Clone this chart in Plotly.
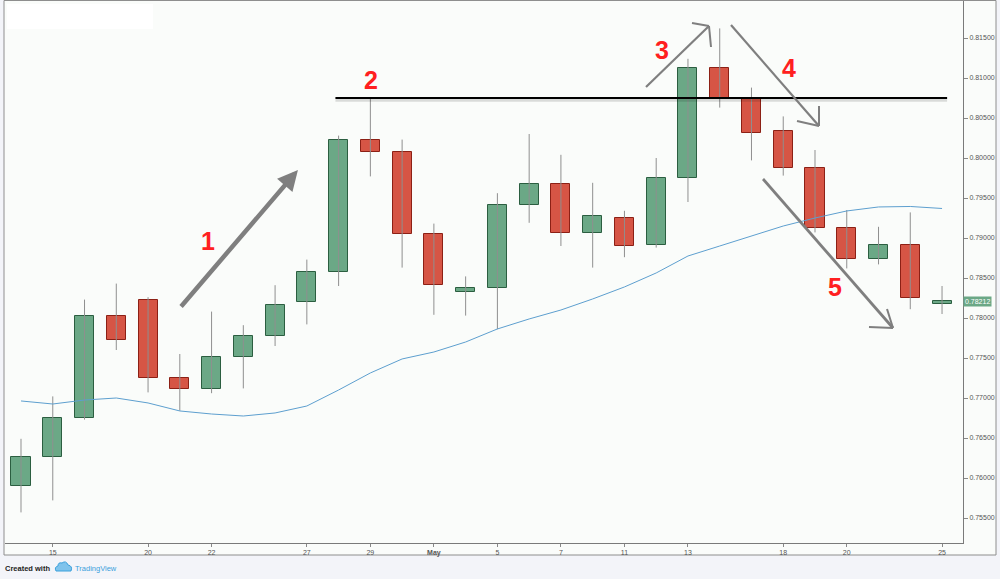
import plotly.graph_objects as go

# ---------------- data ----------------
dates = ["2015-04-14", "2015-04-15", "2015-04-16", "2015-04-17", "2015-04-20",
         "2015-04-21", "2015-04-22", "2015-04-23", "2015-04-24", "2015-04-27",
         "2015-04-28", "2015-04-29", "2015-04-30", "2015-05-01", "2015-05-04",
         "2015-05-05", "2015-05-06", "2015-05-07", "2015-05-08", "2015-05-11",
         "2015-05-12", "2015-05-13", "2015-05-14", "2015-05-15", "2015-05-18",
         "2015-05-19", "2015-05-20", "2015-05-21", "2015-05-22", "2015-05-25"]

opens = [0.7590, 0.7626, 0.7675, 0.7803, 0.7823, 0.7725, 0.7711, 0.7751, 0.7778, 0.7820,
         0.7858, 0.8023, 0.8007, 0.7905, 0.7832, 0.7837, 0.7941, 0.7967, 0.7906, 0.7925,
         0.7891, 0.7975, 0.8112, 0.8075, 0.8034, 0.7987, 0.7913, 0.7874, 0.7891, 0.7818]
highs = [0.7649, 0.7702, 0.7823, 0.7843, 0.7826, 0.7755, 0.7808, 0.7791, 0.7841, 0.7873,
         0.8028, 0.8076, 0.8023, 0.7918, 0.7852, 0.7956, 0.8030, 0.8004, 0.7969, 0.7934,
         0.8000, 0.8124, 0.8162, 0.8088, 0.8052, 0.8010, 0.7935, 0.7914, 0.7932, 0.7840]
lows = [0.7557, 0.7572, 0.7673, 0.7760, 0.7707, 0.7684, 0.7706, 0.7712, 0.7765, 0.7792,
        0.7840, 0.7977, 0.7863, 0.7804, 0.7803, 0.7786, 0.7919, 0.7890, 0.7863, 0.7876,
        0.7888, 0.7945, 0.8063, 0.7997, 0.7978, 0.7907, 0.7862, 0.7867, 0.7811, 0.7805]
closes = [0.7626, 0.7675, 0.7803, 0.7773, 0.7725, 0.7711, 0.7751, 0.7778, 0.7816, 0.7858,
          0.8023, 0.8007, 0.7905, 0.7841, 0.7837, 0.7941, 0.7968, 0.7906, 0.7928, 0.7890,
          0.7975, 0.8112, 0.8075, 0.8031, 0.7987, 0.7913, 0.7874, 0.7891, 0.7825, 0.78212]

moving_avg = [0.76963, 0.76925, 0.76975, 0.77000, 0.76938, 0.76838, 0.76800, 0.76775,
              0.76813, 0.76900, 0.77100, 0.77313, 0.77488, 0.77575, 0.77700, 0.77863,
              0.77988, 0.78100, 0.78238, 0.78388, 0.78563, 0.78775, 0.78900, 0.79025,
              0.79150, 0.79250, 0.79338, 0.79388, 0.79394, 0.79369]

tick_dates = ["2015-04-15", "2015-04-20", "2015-04-22", "2015-04-27", "2015-04-29",
              "2015-05-01", "2015-05-05", "2015-05-07", "2015-05-11", "2015-05-13",
              "2015-05-18", "2015-05-20", "2015-05-25"]
tick_text = ["15", "20", "22", "27", "29", "<b>May</b>", "5", "7", "11", "13", "18", "20", "25"]

y_ticks = [0.755, 0.760, 0.765, 0.770, 0.775, 0.780, 0.785, 0.790,
           0.795, 0.800, 0.805, 0.810, 0.815]

resistance_level = 0.8075
last_price = closes[-1]

# ---------------- style ----------------
UP_FILL, UP_LINE = "#6ba886", "#2b5e40"
DN_FILL, DN_LINE = "#d65545", "#8c2015"
WICK = "#8f8f8f"
BG = "#fafcfa"
OUTER = "#f3f4f9"
LABEL_RED = "#ff2020"
ARROW_GRAY = "#7f7f7f"

W, H = 1000, 579
ML, MR, MT, MB = 5, 37, 1, 36
PW, PH = W - ML - MR, H - MT - MB


def pxx(x):
    return (x - ML) / PW


def pxy(y):
    return (H - MB - y) / PH


fig = go.Figure()

# wicks
wx, wy = [], []
for d, lo, hi in zip(dates, lows, highs):
    wx += [d, d, None]
    wy += [lo, hi, None]
fig.add_trace(go.Scatter(x=wx, y=wy, mode="lines",
                         line=dict(color=WICK, width=1), hoverinfo="skip"))

# bodies
up = [c >= o for o, c in zip(opens, closes)]
fig.add_trace(go.Bar(
    x=dates,
    y=[abs(c - o) for o, c in zip(opens, closes)],
    base=[min(o, c) for o, c in zip(opens, closes)],
    width=0.6,
    marker=dict(color=[UP_FILL if u else DN_FILL for u in up],
                line=dict(color=[UP_LINE if u else DN_LINE for u in up], width=1)),
    customdata=list(zip(opens, highs, lows, closes)),
    hovertemplate="O %{customdata[0]}<br>H %{customdata[1]}<br>L %{customdata[2]}<br>C %{customdata[3]}<extra></extra>",
))

# moving average
fig.add_trace(go.Scatter(x=dates, y=moving_avg, mode="lines",
                         line=dict(color="#5d9fcf", width=1), hoverinfo="skip"))

shapes = [
    # outer frame
    dict(type="rect", xref="paper", yref="paper",
         x0=pxx(4), x1=pxx(996), y0=pxy(555), y1=pxy(0.5),
         line=dict(color="#8e8e8e", width=1), fillcolor=BG, layer="below"),
    # white box top-left
    dict(type="rect", xref="paper", yref="paper",
         x0=pxx(7), x1=pxx(153), y0=pxy(29), y1=pxy(4),
         line=dict(width=0), fillcolor="#ffffff", layer="below"),
    # resistance line shadow + line
    dict(type="line", xref="x", yref="y", x0=9.9, x1=29.16,
         y0=resistance_level - 0.00028, y1=resistance_level - 0.00028,
         line=dict(color="rgba(0,0,0,0.13)", width=3)),
    dict(type="line", xref="x", yref="y", x0=9.9, x1=29.16,
         y0=resistance_level, y1=resistance_level,
         line=dict(color="#000000", width=2)),
]

# hand-drawn thin arrows (markup), in screen pixels: shaft + two head strokes
thin_arrows = [
    ((646, 87), (709, 26), [(692, 23), (711, 47)], 2.2),
    ((731, 25), (819, 126), [(797, 121), (819, 106)], 2.2),
    ((763, 179), (893, 328), [(869, 327), (887, 309)], 2.8),
]
for (tail, tip, heads, wdt) in thin_arrows:
    shapes.append(dict(type="line", xref="paper", yref="paper",
                       x0=pxx(tail[0]), y0=pxy(tail[1]), x1=pxx(tip[0]), y1=pxy(tip[1]),
                       line=dict(color=ARROW_GRAY, width=wdt)))
    for hx, hy in heads:
        shapes.append(dict(type="line", xref="paper", yref="paper",
                           x0=pxx(hx), y0=pxy(hy), x1=pxx(tip[0]), y1=pxy(tip[1]),
                           line=dict(color=ARROW_GRAY, width=2)))

# TradingView logo (small cloud)
logo_path = (f"M {pxx(56)},{pxy(571)} L {pxx(71)},{pxy(571)} "
             f"Q {pxx(73)},{pxy(566)} {pxx(68)},{pxy(565)} "
             f"Q {pxx(66)},{pxy(560)} {pxx(62)},{pxy(563)} "
             f"Q {pxx(58)},{pxy(562)} {pxx(58)},{pxy(566)} "
             f"Q {pxx(54)},{pxy(567)} {pxx(56)},{pxy(571)} Z")
shapes.append(dict(type="path", xref="paper", yref="paper", path=logo_path,
                   fillcolor="#7fc3ec", line=dict(color="#3aa0dc", width=1)))

annotations = []
# thick arrow "1"
annotations.append(dict(x=8.72, y=0.7985, ax=5.0, ay=0.78125, xref="x", yref="y",
                        axref="x", ayref="y", showarrow=True, arrowhead=2,
                        arrowsize=0.9, arrowwidth=4.5, arrowcolor=ARROW_GRAY, text=""))

# numeric labels
for (t, lx, ly) in [("1", 5.89, 0.78963), ("2", 11.02, 0.80975), ("3", 20.18, 0.8135),
                    ("4", 24.18, 0.81125), ("5", 25.63, 0.78388)]:
    annotations.append(dict(x=lx, y=ly, xref="x", yref="y", text=f"<b>{t}</b>",
                            showarrow=False,
                            font=dict(family="Liberation Sans, Arial", size=25, color=LABEL_RED)))

# last price label
annotations.append(dict(x=1.0, y=last_price, xref="paper", yref="y", xanchor="left",
                        yanchor="middle", text=f"{last_price:.5f}", showarrow=False,
                        bgcolor=UP_FILL, borderpad=1,
                        font=dict(family="Liberation Sans, Arial", size=7, color="#ffffff")))

# footer
annotations.append(dict(x=pxx(3), y=pxy(568), xref="paper", yref="paper", xanchor="left",
                        yanchor="middle", text="<b>Created with</b>", showarrow=False,
                        font=dict(family="Liberation Sans, Arial", size=7.5, color="#222222")))
annotations.append(dict(x=pxx(73), y=pxy(568), xref="paper", yref="paper", xanchor="left",
                        yanchor="middle", text="TradingView", showarrow=False,
                        font=dict(family="Liberation Sans, Arial", size=7.5, color="#3aa0dc")))

fig.update_layout(
    width=W, height=H,
    margin=dict(l=ML, r=MR, t=MT, b=MB),
    paper_bgcolor=OUTER, plot_bgcolor=BG,
    showlegend=False, bargap=0,
    shapes=shapes, annotations=annotations,
    font=dict(family="Liberation Sans, Arial", size=7, color="#555555"),
    xaxis=dict(type="category", categoryorder="array", categoryarray=dates,
               range=[-0.504, 29.66], tickmode="array", tickvals=tick_dates,
               ticktext=tick_text, ticks="outside", ticklen=3, tickcolor="#888888",
               showline=True, linecolor="#7a7a7a", linewidth=1, showgrid=False,
               zeroline=False, tickfont=dict(size=7, color="#555555"), fixedrange=True),
    yaxis=dict(side="right", range=[0.751875, 0.819625], tickmode="array",
               tickvals=y_ticks, tickformat=".5f", ticks="outside", ticklen=4,
               tickcolor="#888888", showline=True, linecolor="#7a7a7a", linewidth=1,
               showgrid=False, zeroline=False, tickfont=dict(size=7, color="#555555"),
               fixedrange=True),
)

fig.write_html(
    "out.html",
    config={"displayModeBar": False},
    post_script="document.body.style.margin='0';document.body.style.background='" + OUTER + "';",
)
